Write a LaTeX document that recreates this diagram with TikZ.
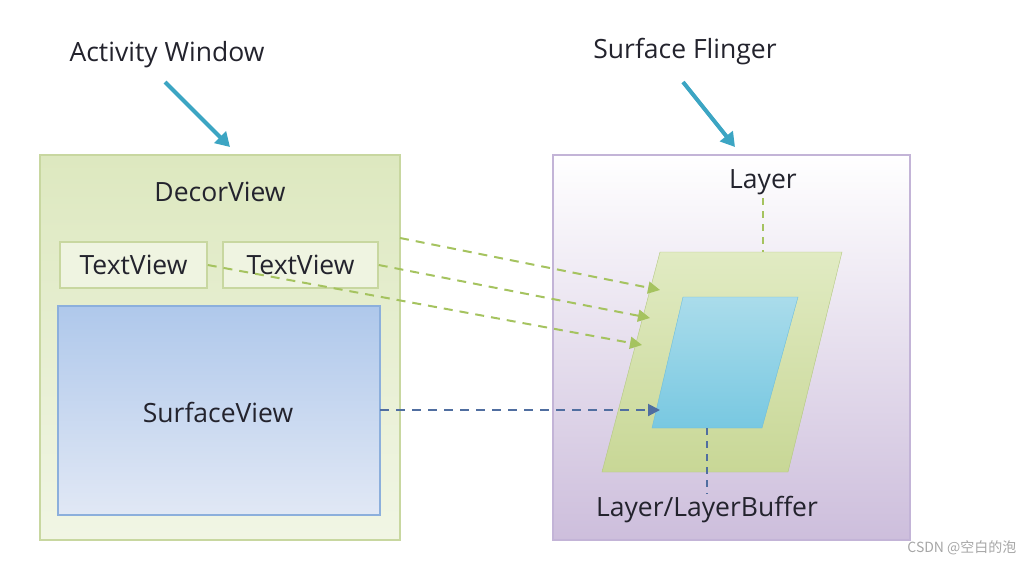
\documentclass[tikz,border=0pt]{standalone}
\usepackage{fontspec}
\setmainfont{Open Sans}
\newfontfamily\cjk{Noto Sans CJK SC}
\usetikzlibrary{arrows.meta}
\definecolor{teal1}{RGB}{60,165,195}
\definecolor{gborder}{RGB}{200,215,160}
\definecolor{gfill}{RGB}{215,228,180}
\definecolor{gdash}{RGB}{165,195,95}
\definecolor{bdash}{RGB}{80,110,160}
\definecolor{pborder}{RGB}{195,180,215}
\definecolor{pfill}{RGB}{205,190,220}
\definecolor{txt}{RGB}{35,35,45}
\definecolor{svtop}{RGB}{175,200,235}
\definecolor{svbot}{RGB}{225,232,245}
\definecolor{svbord}{RGB}{140,175,220}
\definecolor{laytop}{RGB}{225,235,195}
\definecolor{laybot}{RGB}{200,215,150}
\definecolor{laybord}{RGB}{180,200,130}
\definecolor{buftop}{RGB}{170,220,235}
\definecolor{bufbot}{RGB}{120,200,225}
\definecolor{bufbord}{RGB}{110,190,220}
\tikzset{
 lbl/.style={font=\fontsize{26.5}{30}\selectfont, text=txt},
 callout/.style={line width=4pt, teal1, -{Triangle[length=14pt,width=16pt]}},
 gconn/.style={gdash, line width=2pt, dash pattern=on 9pt off 7pt, -{Triangle[length=12pt,width=12pt]}},
 bconn/.style={bdash, line width=2pt, dash pattern=on 9pt off 7pt, -{Triangle[length=12pt,width=12pt]}},
}
\begin{document}
\begin{tikzpicture}[x=1pt,y=-1pt]
\useasboundingbox (0,0) rectangle (1034,566);
% left window
\shade[top color=gfill!85, bottom color=gfill!35, draw=gborder, line width=2pt] (40,155) rectangle (400,540);
\node[lbl] (act) at (167,55) {Activity Window};
\coordinate (actA) at (230,147);
\draw[callout] (165,82) -- (actA);
\node[lbl] (decor) at (220,192) {DecorView};
\node[lbl, draw=gborder, line width=1.5pt, fill=gfill!40, minimum width=147pt, minimum height=46pt] (tv1) at (133.5,265) {TextView};
\node[lbl, draw=gborder, line width=1.5pt, fill=gfill!40, minimum width=155pt, minimum height=46pt] (tv2) at (300.5,265) {TextView};
\shade[top color=svtop, bottom color=svbot, draw=svbord, line width=1.5pt] (58,306) rectangle (380,515);
\node[lbl] (sv) at (218,412) {SurfaceView};
\coordinate (svR) at (380,410);
% right window
\shade[top color=white, bottom color=pfill, draw=pborder, line width=2pt] (553,155) rectangle (910,540);
\node[lbl] (sf) at (685,52) {Surface Flinger};
\draw[callout] (683,82) -- (735,147);
\node[lbl] (layer) at (763,182) {Layer};
\shade[top color=laytop, bottom color=laybot, draw=laybord] (660,252) -- (842,252) -- (788,472) -- (602,472) -- cycle;
\shade[top color=buftop, bottom color=bufbot, draw=bufbord] (683,297) -- (798,297) -- (762,428) -- (652,428) -- cycle;
\coordinate (layTop) at (763,252);
\coordinate (bufBot) at (707,428);
\node[lbl] (lb) at (707,510) {Layer/LayerBuffer};
\draw[gdash, line width=2pt, dash pattern=on 7pt off 6pt] (layer.south) -- (layTop);
\draw[bdash, line width=2pt, dash pattern=on 7pt off 6pt] (bufBot) -- (lb.north);
% connectors
\coordinate (d1) at (400,238);
\coordinate (e1) at (660,290);
\coordinate (e2) at (650,318);
\coordinate (e3) at (642,345);
\coordinate (e4) at (660,410);
\draw[gconn] (d1) -- (e1);
\draw[gconn] (tv2.east) -- (e2);
\draw[gconn] (tv1.east) -- (e3);
\draw[bconn] (svR) -- (e4);
\node[font=\cjk\fontsize{14}{16}\selectfont, text=gray!70, anchor=east] (wm) at (1020,548) {CSDN @空白的泡};
\end{tikzpicture}
\end{document}
